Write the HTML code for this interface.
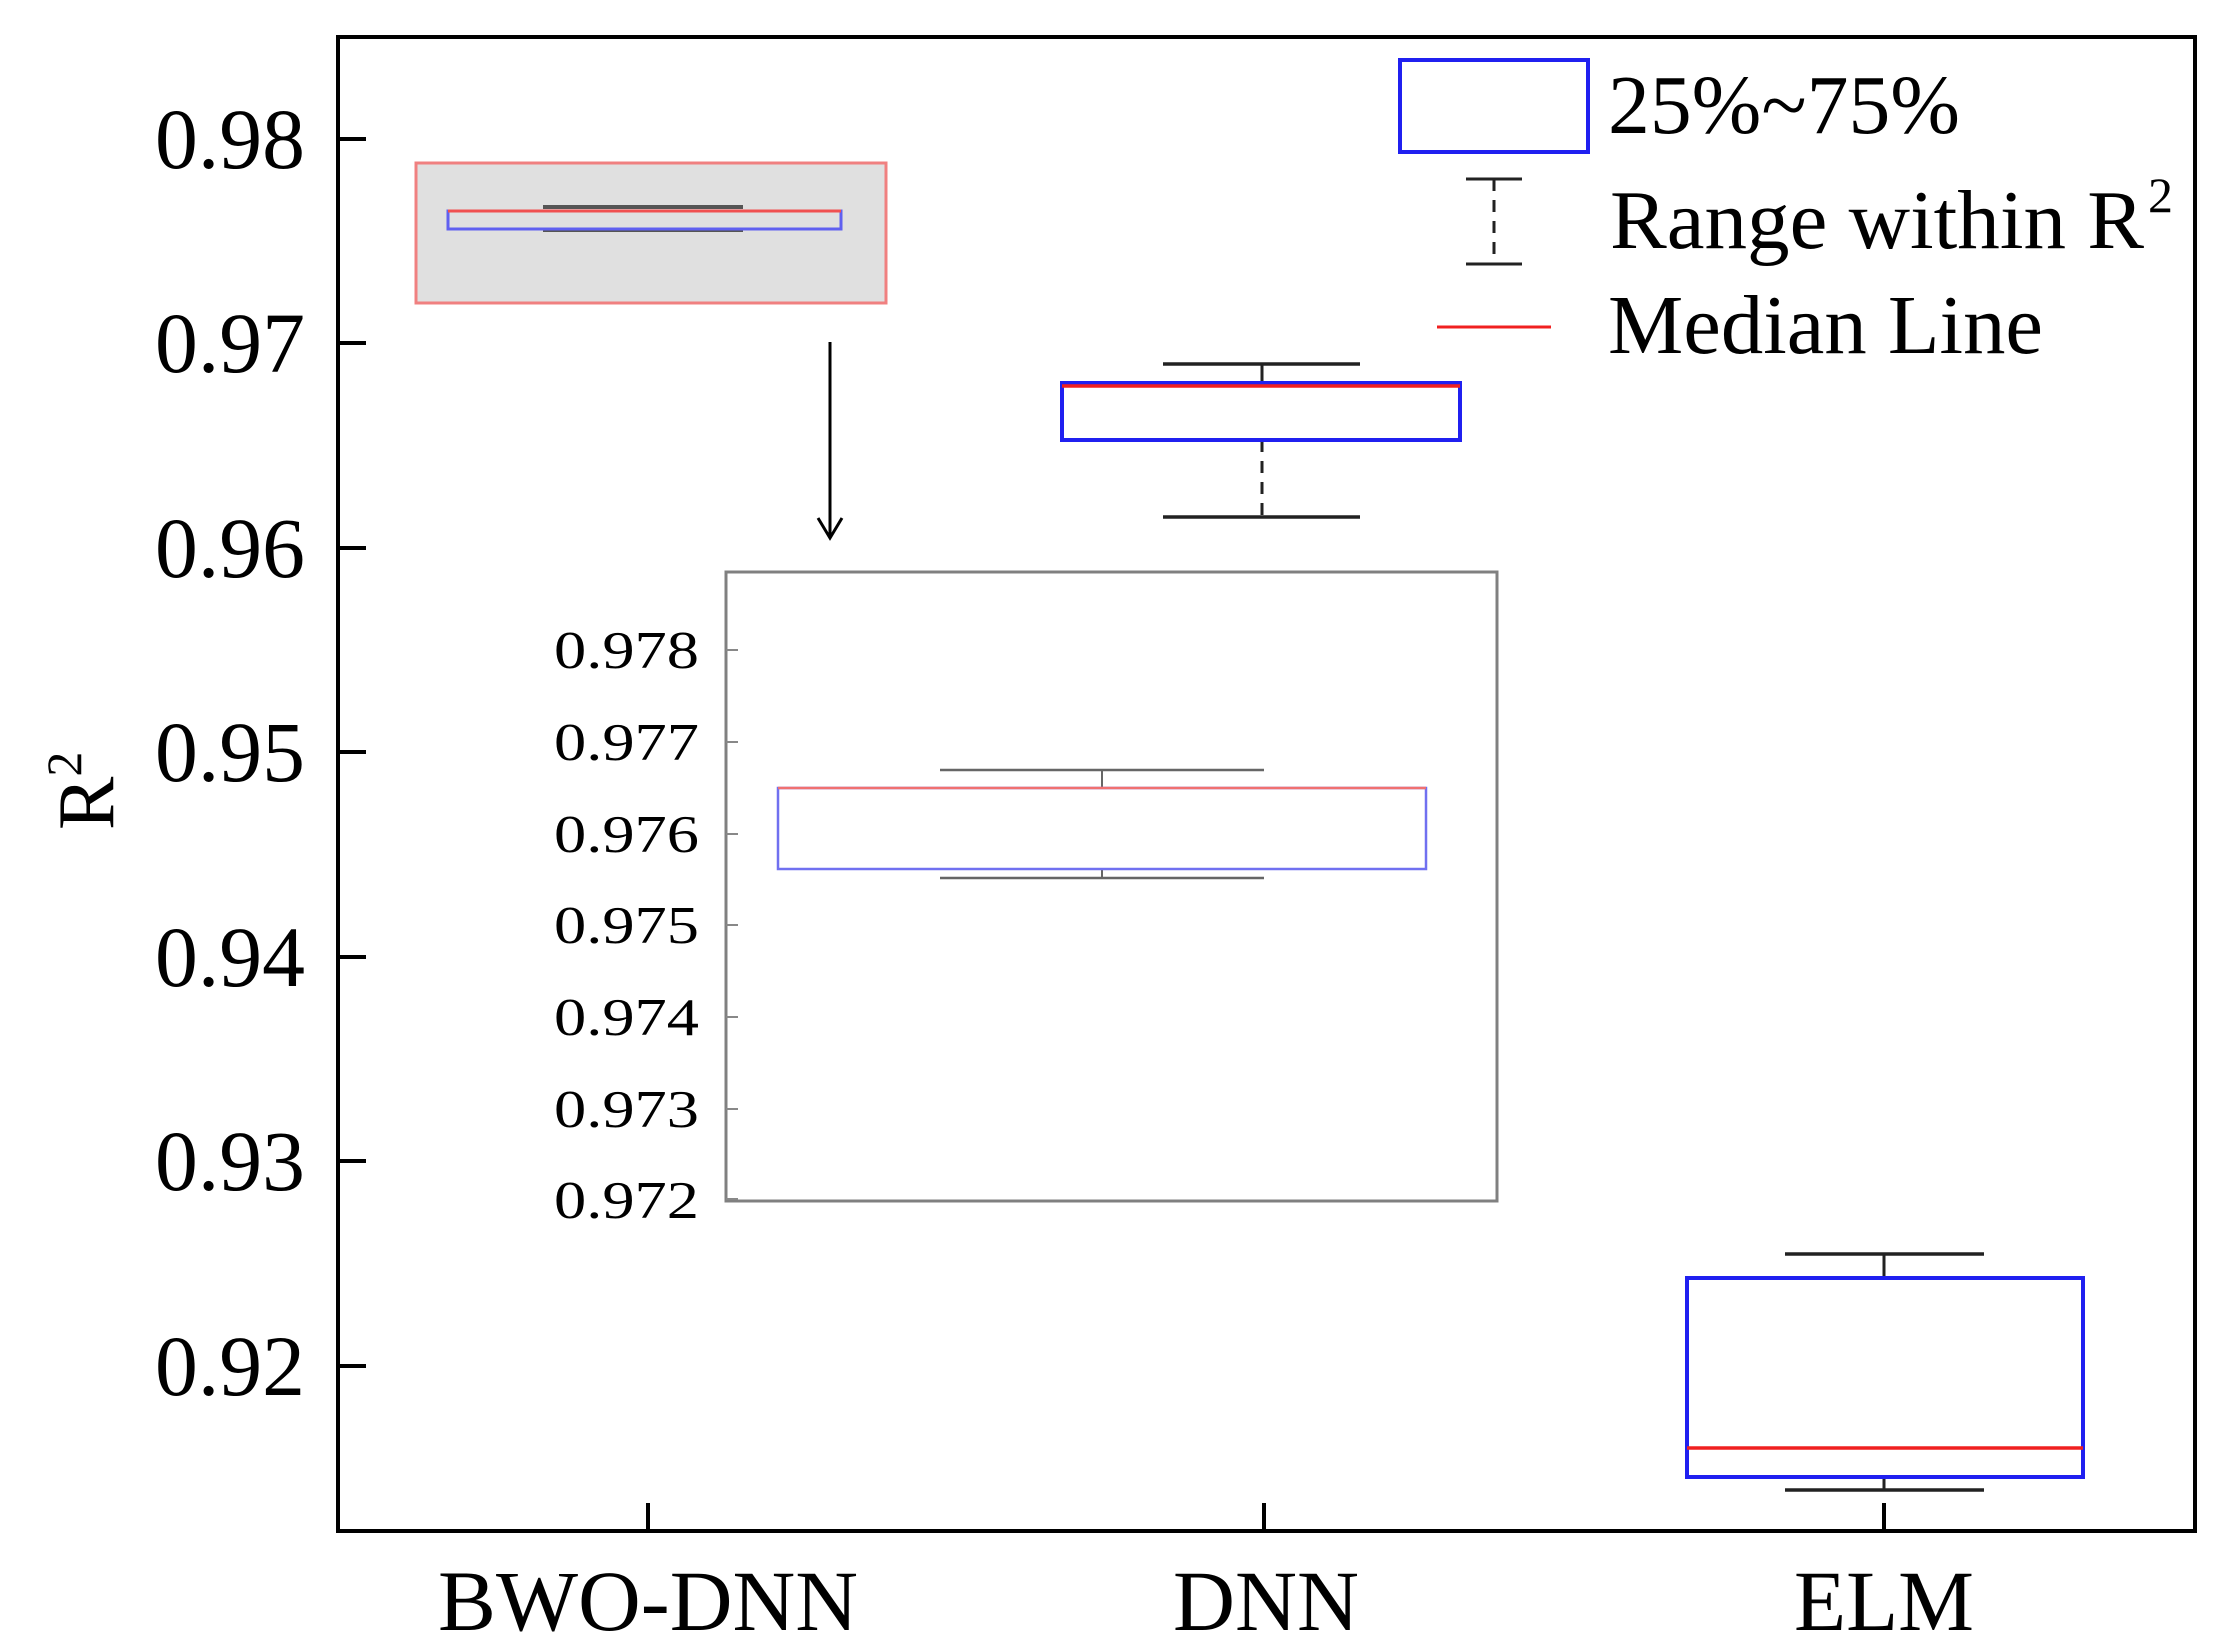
<!DOCTYPE html>
<html><head><meta charset="utf-8"><style>html,body{margin:0;padding:0;background:#fff}svg{display:block}</style></head>
<body>
<svg width="2216" height="1650" viewBox="0 0 2216 1650" xmlns="http://www.w3.org/2000/svg" font-family="'Liberation Serif', serif" fill="#000">
<!-- main axes frame -->
<rect x="338" y="37" width="1857" height="1494" fill="none" stroke="#000" stroke-width="4"/>
<!-- y ticks -->
<g stroke="#000" stroke-width="4">
<line x1="338" y1="139" x2="366" y2="139"/>
<line x1="338" y1="343" x2="366" y2="343"/>
<line x1="338" y1="548" x2="366" y2="548"/>
<line x1="338" y1="752" x2="366" y2="752"/>
<line x1="338" y1="957" x2="366" y2="957"/>
<line x1="338" y1="1161" x2="366" y2="1161"/>
<line x1="338" y1="1366" x2="366" y2="1366"/>
<line x1="648" y1="1531" x2="648" y2="1503"/>
<line x1="1264" y1="1531" x2="1264" y2="1503"/>
<line x1="1884" y1="1531" x2="1884" y2="1503"/>
</g>
<g font-size="86" text-anchor="end">
<text x="305" y="168" textLength="150" lengthAdjust="spacingAndGlyphs">0.98</text>
<text x="305" y="372" textLength="150" lengthAdjust="spacingAndGlyphs">0.97</text>
<text x="305" y="577" textLength="150" lengthAdjust="spacingAndGlyphs">0.96</text>
<text x="305" y="781" textLength="150" lengthAdjust="spacingAndGlyphs">0.95</text>
<text x="305" y="986" textLength="150" lengthAdjust="spacingAndGlyphs">0.94</text>
<text x="305" y="1190" textLength="150" lengthAdjust="spacingAndGlyphs">0.93</text>
<text x="305" y="1395" textLength="150" lengthAdjust="spacingAndGlyphs">0.92</text>
</g>
<g font-size="86" text-anchor="middle">
<text x="648" y="1630" textLength="420" lengthAdjust="spacingAndGlyphs">BWO-DNN</text>
<text x="1266" y="1630" textLength="186" lengthAdjust="spacingAndGlyphs">DNN</text>
<text x="1884" y="1630" textLength="180" lengthAdjust="spacingAndGlyphs">ELM</text>
</g>
<text transform="translate(113,830) rotate(-90)" font-size="80">R<tspan font-size="50" dy="-32">2</tspan></text>

<!-- BWO-DNN zoom highlight -->
<rect x="416" y="163" width="470" height="140" fill="#e0e0e0" stroke="#f08080" stroke-width="3"/>
<line x1="543" y1="207" x2="743" y2="207" stroke="#555" stroke-width="4"/>
<line x1="543" y1="230" x2="743" y2="230" stroke="#555" stroke-width="4"/>
<rect x="448" y="211" width="393" height="18" fill="none" stroke="#6060f0" stroke-width="3"/>
<line x1="448" y1="211" x2="841" y2="211" stroke="#f05050" stroke-width="3"/>
<!-- arrow -->
<line x1="830" y1="342" x2="830" y2="535" stroke="#000" stroke-width="3"/>
<polyline points="818,518 830,538 842,518" fill="none" stroke="#000" stroke-width="3"/>

<!-- DNN -->
<line x1="1163" y1="364" x2="1360" y2="364" stroke="#222" stroke-width="3.5"/>
<line x1="1163" y1="517" x2="1360" y2="517" stroke="#222" stroke-width="3.5"/>
<line x1="1262" y1="364" x2="1262" y2="383" stroke="#222" stroke-width="3"/>
<line x1="1262" y1="440" x2="1262" y2="517" stroke="#222" stroke-width="3" stroke-dasharray="12,9"/>
<rect x="1062" y="383" width="398" height="57" fill="none" stroke="#2020f0" stroke-width="4"/>
<line x1="1062" y1="386" x2="1460" y2="386" stroke="#f02020" stroke-width="3.5"/>

<!-- ELM -->
<line x1="1785" y1="1254" x2="1984" y2="1254" stroke="#222" stroke-width="3.5"/>
<line x1="1785" y1="1490" x2="1984" y2="1490" stroke="#222" stroke-width="3.5"/>
<line x1="1884" y1="1254" x2="1884" y2="1278" stroke="#222" stroke-width="3"/>
<line x1="1884" y1="1477" x2="1884" y2="1490" stroke="#222" stroke-width="3"/>
<rect x="1687" y="1278" width="396" height="199" fill="none" stroke="#2020f0" stroke-width="4"/>
<line x1="1687" y1="1448" x2="2083" y2="1448" stroke="#f02020" stroke-width="3.5"/>

<!-- inset -->
<rect x="726" y="572" width="771" height="629" fill="#fff" stroke="#808080" stroke-width="3"/>
<g stroke="#888" stroke-width="2">
<line x1="726" y1="650" x2="738" y2="650"/>
<line x1="726" y1="742" x2="738" y2="742"/>
<line x1="726" y1="834" x2="738" y2="834"/>
<line x1="726" y1="925" x2="738" y2="925"/>
<line x1="726" y1="1017" x2="738" y2="1017"/>
<line x1="726" y1="1109" x2="738" y2="1109"/>
<line x1="726" y1="1199" x2="738" y2="1199"/>
</g>
<g font-size="53" text-anchor="end">
<text x="699" y="668" textLength="145" lengthAdjust="spacingAndGlyphs">0.978</text>
<text x="699" y="760" textLength="145" lengthAdjust="spacingAndGlyphs">0.977</text>
<text x="699" y="852" textLength="145" lengthAdjust="spacingAndGlyphs">0.976</text>
<text x="699" y="943" textLength="145" lengthAdjust="spacingAndGlyphs">0.975</text>
<text x="699" y="1035" textLength="145" lengthAdjust="spacingAndGlyphs">0.974</text>
<text x="699" y="1127" textLength="145" lengthAdjust="spacingAndGlyphs">0.973</text>
<text x="699" y="1218" textLength="145" lengthAdjust="spacingAndGlyphs">0.972</text>
</g>
<line x1="940" y1="770" x2="1264" y2="770" stroke="#666" stroke-width="2.5"/>
<line x1="940" y1="878" x2="1264" y2="878" stroke="#666" stroke-width="2.5"/>
<line x1="1102" y1="770" x2="1102" y2="788" stroke="#666" stroke-width="2"/>
<line x1="1102" y1="869" x2="1102" y2="878" stroke="#666" stroke-width="2"/>
<rect x="778" y="788" width="648" height="81" fill="none" stroke="#7070f0" stroke-width="2.5"/>
<line x1="778" y1="788" x2="1426" y2="788" stroke="#f07070" stroke-width="2.5"/>

<!-- legend -->
<rect x="1400" y="60" width="188" height="92" fill="none" stroke="#2020f0" stroke-width="4"/>
<line x1="1466" y1="179" x2="1522" y2="179" stroke="#222" stroke-width="3"/>
<line x1="1466" y1="264" x2="1522" y2="264" stroke="#222" stroke-width="3"/>
<line x1="1494" y1="179" x2="1494" y2="264" stroke="#222" stroke-width="3" stroke-dasharray="12,9"/>
<line x1="1437" y1="327" x2="1551" y2="327" stroke="#f02020" stroke-width="3"/>
<text x="1608" y="133" font-size="84" textLength="352" lengthAdjust="spacingAndGlyphs">25%~75%</text>
<text x="1610" y="248" font-size="84" textLength="534" lengthAdjust="spacingAndGlyphs">Range within R</text>
<text x="2148" y="212" font-size="50">2</text>
<text x="1608" y="353" font-size="84" textLength="435" lengthAdjust="spacingAndGlyphs">Median Line</text>
</svg>
</body></html>
